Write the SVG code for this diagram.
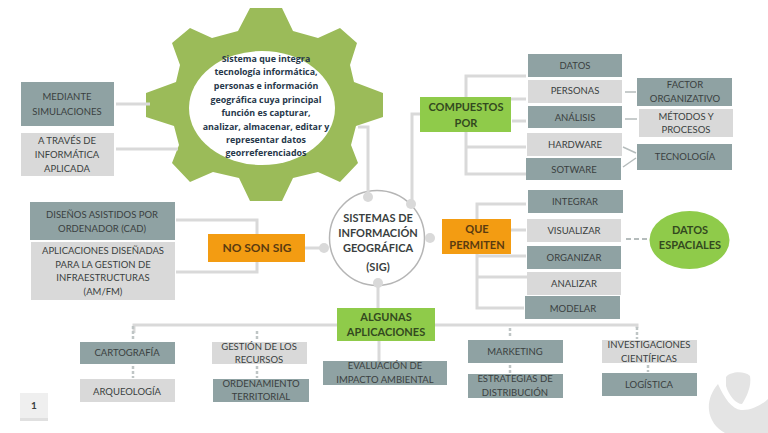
<svg xmlns="http://www.w3.org/2000/svg" width="768" height="433" viewBox="0 0 768 433">
<style>
text{font-family:"Lato","Open Sans","Liberation Sans",sans-serif;text-anchor:middle;fill:#3a3f40}
.d{fill:#8fa2a3}.l{fill:#d9d9d9}.o{fill:#f39c12}.g{fill:#8fcb4a}
.t{font-size:9.5px}
.b{font-size:11px;font-weight:700;fill:#33491f}
.bo{font-size:11px;font-weight:700;fill:#5a3b10}
.h{font-size:11px;font-weight:700;fill:#3a3f40}
.s{font-family:"Open Sans","Liberation Sans",sans-serif;font-size:8.9px;font-weight:700;fill:#26374a}
.c{fill:none;stroke:#d9d9d9;stroke-width:3}
.n{fill:none;stroke:#b5bcbc;stroke-width:1.5}
.dash{fill:none;stroke:#bfc5c5;stroke-width:2.5;stroke-dasharray:3 2}
.dl{fill:none;stroke:#b5bcbc;stroke-width:2;stroke-dasharray:5 3}
.p{fill:#d9d9d9}
</style>
<g id="gear">
<path fill="#9bbb59" d="M250 8H282L293 31L318 38L340 28L357 43L350 65L354 82L383 93V117L356 126L351 145L358 163L340 182L318 172L293 178L282 201H250L239 178L213 172L190 182L172 163L179 145L174 126L146 117V93L176 82L180 65L172 43L190 28L212 38L238 31Z"/>
<ellipse cx="262" cy="108" rx="73" ry="57" fill="#fff"/>
<text class="s" x="266" y="62">Sistema que integra</text>
<text class="s" x="266" y="75">tecnología informática,</text>
<text class="s" x="266" y="89">personas e información</text>
<text class="s" x="266" y="103">geográfica cuya principal</text>
<text class="s" x="266" y="116">función es capturar,</text>
<text class="s" x="266" y="130">analizar, almacenar, editar y</text>
<text class="s" x="266" y="143">representar datos</text>
<text class="s" x="266" y="156">georreferenciados</text>
</g>
<g id="sig">
<circle cx="377" cy="238" r="47.500" fill="#fff" stroke="#b5b5b5" stroke-width="1.500"/>
<text class="h" x="378" y="222">SISTEMAS DE</text>
<text class="h" x="378" y="237">INFORMACIÓN</text>
<text class="h" x="378" y="252">GEOGRÁFICA</text>
<text class="h" x="378" y="271">(SIG)</text>
</g>
<g id="connectors">
<path class="c" d="M116 104H150M116 149H178"/>
<path class="c" d="M358 127H368V198"/>
<path class="c" d="M420 114H412V205"/>
<path class="c" d="M526 76H466V97M526 99H500M512 121H526M466 132V174H526M466 147H526"/>
<path class="c" d="M526 204H477V219M526 230H511M477 254V308H524M477 277H527M477 256H526"/>
<path class="c" d="M176 220H257V234M176 272H257V262M305 248H325"/>
<path class="c" d="M378 283V308"/>
<path class="c" d="M337 325H134V333M435 325H637V328"/>
<path class="c" d="M379 341V361"/>
<circle class="p" cx="368" cy="197" r="5"/>
<circle class="p" cx="411" cy="204" r="5"/>
<circle class="p" cx="430" cy="238" r="5"/>
<circle class="p" cx="324" cy="248" r="5"/>
<circle class="p" cx="378" cy="283" r="5"/>
<path class="n" d="M625 92H636M625 119H637M623 147L636 153M623 167L636 158"/>
<path class="dl" d="M626 239H649"/>
<path class="dash" d="M133 326V340M133 366V378M257 331V340M257 366V378M510 328V338M510 365V373M637 327V339M648 365V372"/>
</g>
<g id="mediante"><rect class="d" x="21" y="82" width="93" height="44"/><text class="t" x="67" y="100">MEDIANTE</text><text class="t" x="67" y="115">SIMULACIONES</text></g>
<g id="atraves"><rect class="l" x="21" y="133" width="93" height="43"/><text class="t" x="67" y="144">A TRAVÉS DE</text><text class="t" x="67" y="158">INFORMÁTICA</text><text class="t" x="67" y="172">APLICADA</text></g>
<g id="cad"><rect class="d" x="30" y="202" width="145" height="38"/><text class="t" x="102" y="218">DISEÑOS ASISTIDOS POR</text><text class="t" x="102" y="232">ORDENADOR (CAD)</text></g>
<g id="amfm"><rect class="l" x="31" y="242" width="144" height="58"/><text class="t" x="103" y="254">APLICACIONES DISEÑADAS</text><text class="t" x="103" y="268">PARA LA GESTION DE</text><text class="t" x="103" y="281">INFRAESTRUCTURAS</text><text class="t" x="103" y="295">(AM/FM)</text></g>
<g id="nosonsig"><rect class="o" x="208" y="234" width="97" height="28"/><text class="bo" x="257" y="252" style="font-size:12px">NO SON SIG</text></g>
<g id="compuestos"><rect class="g" x="420" y="97" width="91" height="35"/><text class="b" x="466" y="111">COMPUESTOS</text><text class="b" x="466" y="127">POR</text></g>
<g id="datos"><rect class="d" x="528" y="54" width="94" height="23"/><text class="t" x="575" y="69">DATOS</text></g>
<g id="personas"><rect class="l" x="528" y="80" width="94" height="23"/><text class="t" x="575" y="94">PERSONAS</text></g>
<g id="analisis"><rect class="d" x="528" y="106" width="94" height="22"/><text class="t" x="575" y="121">ANÁLISIS</text></g>
<g id="hardware"><rect class="l" x="527" y="133" width="95" height="23"/><text class="t" x="575" y="148">HARDWARE</text></g>
<g id="sotware"><rect class="d" x="526" y="158" width="95" height="22"/><text class="t" x="574" y="173">SOTWARE</text></g>
<g id="factor"><rect class="d" x="637" y="78" width="95" height="28"/><text class="t" x="685" y="88">FACTOR</text><text class="t" x="685" y="102">ORGANIZATIVO</text></g>
<g id="metodos"><rect class="l" x="639" y="109" width="94" height="28"/><text class="t" x="686" y="120">MÉTODOS Y</text><text class="t" x="686" y="133">PROCESOS</text></g>
<g id="tecnologia"><rect class="d" x="637" y="144" width="95" height="26"/><text class="t" x="685" y="160">TECNOLOGÍA</text></g>
<g id="quepermiten"><rect class="o" x="442" y="219" width="69" height="35"/><text class="bo" x="477" y="233">QUE</text><text class="bo" x="477" y="249">PERMITEN</text></g>
<g id="integrar"><rect class="d" x="528" y="190" width="95" height="23"/><text class="t" x="575" y="205">INTEGRAR</text></g>
<g id="visualizar"><rect class="l" x="527" y="219" width="94" height="23"/><text class="t" x="574" y="234">VISUALIZAR</text></g>
<g id="organizar"><rect class="d" x="527" y="246" width="94" height="23"/><text class="t" x="574" y="261">ORGANIZAR</text></g>
<g id="analizar"><rect class="l" x="527" y="272" width="94" height="23"/><text class="t" x="574" y="287">ANALIZAR</text></g>
<g id="modelar"><rect class="d" x="525" y="296" width="95" height="23"/><text class="t" x="573" y="312">MODELAR</text></g>
<g id="espaciales"><ellipse class="g" cx="689.500" cy="240" rx="40" ry="29"/><text class="b" x="690" y="234">DATOS</text><text class="b" x="690" y="249">ESPACIALES</text></g>
<g id="aplicaciones"><rect class="g" x="337" y="308" width="98" height="33"/><text class="b" x="386" y="321">ALGUNAS</text><text class="b" x="386" y="336">APLICACIONES</text></g>
<g id="cartografia"><rect class="d" x="80" y="342" width="95" height="22"/><text class="t" x="127" y="356">CARTOGRAFÍA</text></g>
<g id="arqueologia"><rect class="l" x="80" y="379" width="95" height="23"/><text class="t" x="127" y="395">ARQUEOLOGÍA</text></g>
<g id="gestion"><rect class="l" x="212" y="342" width="95" height="22"/><text class="t" x="259" y="350">GESTIÓN DE LOS</text><text class="t" x="259" y="363">RECURSOS</text></g>
<g id="ordenamiento"><rect class="d" x="213" y="379" width="96" height="23"/><text class="t" x="261" y="387">ORDENAMIENTO</text><text class="t" x="261" y="400">TERRITORIAL</text></g>
<g id="evaluacion"><rect class="d" x="323" y="361" width="124" height="24"/><text class="t" x="385" y="369">EVALUACIÓN DE</text><text class="t" x="385" y="383">IMPACTO AMBIENTAL</text></g>
<g id="marketing"><rect class="d" x="468" y="340" width="95" height="23"/><text class="t" x="515" y="355">MARKETING</text></g>
<g id="estrategias"><rect class="d" x="468" y="374" width="95" height="24"/><text class="t" x="515" y="382">ESTRATEGIAS DE</text><text class="t" x="515" y="396">DISTRIBUCIÓN</text></g>
<g id="investigaciones"><rect class="l" x="602" y="340" width="95" height="23"/><text class="t" x="649" y="348">INVESTIGACIONES</text><text class="t" x="649" y="362">CIENTÍFICAS</text></g>
<g id="logistica"><rect class="d" x="602" y="373" width="95" height="23"/><text class="t" x="649" y="388">LOGÍSTICA</text></g>
<g id="page"><rect x="20" y="393" width="28" height="28" fill="#efefef"/><rect x="20" y="418" width="28" height="3" fill="#e0e0e0"/><text x="34" y="409" style="font-size:10px;font-weight:700">1</text></g>
<g id="logo" fill="#e4e4e4">
<path d="M726 377C731 371 745 371 750 376C752 386 746 398 742 404C736 404 729 396 726 386Z"/>
<path d="M718 384C711 392 708 402 709 410C710 420 716 428 725 433H768V399C762 405 750 411 741 410C732 409 724 398 718 384Z"/>
</g>
</svg>
